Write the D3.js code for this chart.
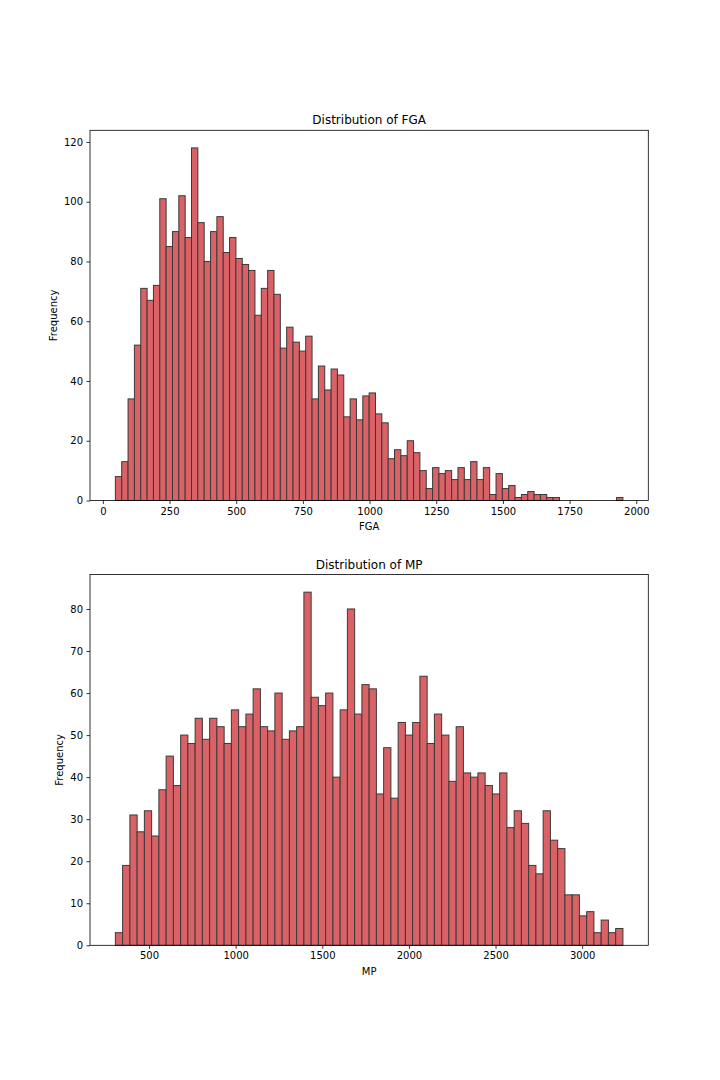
<!DOCTYPE html>
<html><head><meta charset="utf-8">
<script src="https://cdn.jsdelivr.net/npm/d3@7"></script>
<style>
body{margin:0;background:#fff}
svg{display:block}
text{font-family:"DejaVu Sans",sans-serif;fill:#000}
</style>
</head><body><svg id="c" width="720" height="1080"></svg>
<script>
// ---- data ----
const fgaCounts = [8,13,34,52,71,67,72,101,85,90,102,88,118,93,80,90,95,83,88,81,
  79,77,62,71,77,69,51,58,53,50,55,34,45,37,44,42,28,34,27,35,
  36,29,26,14,17,15,20,16,10,4,11,9,10,7,11,7,13,7,11,2,
  9,4,5,1,2,3,2,2,1,1,0,0,0,0,0,0,0,0,0,1];
const fgaRange = [47, 1950];
const fgaXTicks = [0,250,500,750,1000,1250,1500,1750,2000];
const fgaYTicks = [0,20,40,60,80,100,120];

const mpCounts = [3,19,31,27,32,26,37,45,38,50,48,54,49,54,52,48,56,52,55,61,
  52,51,60,49,51,52,84,59,57,60,40,56,80,55,62,61,36,47,35,53,
  50,53,64,48,55,50,39,52,41,40,41,38,36,41,28,32,29,19,17,32,
  25,23,12,12,7,8,3,6,3,4];
const mpRange = [306, 3235];
const mpXTicks = [500,1000,1500,2000,2500,3000];
const mpYTicks = [0,10,20,30,40,50,60,70,80];

const panels = [
  {title:"Distribution of FGA", xlabel:"FGA", counts:fgaCounts, range:fgaRange, xt:fgaXTicks, yt:fgaYTicks,
   box:{l:90, r:648.3, t:130.3, b:500.5}, ylabX:56.5},
  {title:"Distribution of MP", xlabel:"MP", counts:mpCounts, range:mpRange, xt:mpXTicks, yt:mpYTicks,
   box:{l:90, r:648.3, t:574.5, b:945.3}, ylabX:62.9}
];

const svg = d3.select("#c");
const fill = "rgb(218,98,102)", edge = "#3a3a3a";

panels.forEach(p => {
  const [lo, hi] = p.range, n = p.counts.length, span = hi - lo;
  const edges = d3.range(n + 1).map(i => lo + i * span / n);
  const x = d3.scaleLinear().domain([lo - 0.05 * span, hi + 0.05 * span]).range([p.box.l, p.box.r]);
  const y = d3.scaleLinear().domain([0, d3.max(p.counts) * 1.05]).range([p.box.b, p.box.t]);
  const g = svg.append("g");

  const bins = p.counts.map((c, i) => ({c, x0: edges[i], x1: edges[i + 1]})).filter(d => d.c > 0);
  g.selectAll("rect.bar").data(bins).join("rect")
    .attr("class", "bar")
    .attr("x", d => x(d.x0)).attr("width", d => x(d.x1) - x(d.x0))
    .attr("y", d => y(d.c)).attr("height", d => y(0) - y(d.c))
    .attr("fill", fill).attr("stroke", edge).attr("stroke-width", 1);

  const xa = g.append("g").attr("transform", `translate(0,${p.box.b})`)
    .call(d3.axisBottom(x).tickValues(p.xt).tickSize(3.5).tickPadding(3.5).tickFormat(d3.format("d")));
  const ya = g.append("g").attr("transform", `translate(${p.box.l},0)`)
    .call(d3.axisLeft(y).tickValues(p.yt).tickSize(3.5).tickPadding(3.5).tickFormat(d3.format("d")));
  [xa, ya].forEach(a => {
    a.attr("font-family", null).attr("font-size", null);
    a.select(".domain").remove();
    a.selectAll(".tick line").attr("stroke", "#000").attr("stroke-width", 0.8);
    a.selectAll(".tick text").style("font-size", "10px").attr("fill", "#000");
  });

  g.append("rect")
    .attr("x", p.box.l).attr("y", p.box.t)
    .attr("width", p.box.r - p.box.l).attr("height", p.box.b - p.box.t)
    .attr("fill", "none").attr("stroke", "#000").attr("stroke-width", 0.8);

  const cx = (p.box.l + p.box.r) / 2;
  g.append("text").attr("x", cx).attr("y", p.box.t - 6).attr("text-anchor", "middle")
    .style("font-size", "12px").text(p.title);
  g.append("text").attr("x", cx).attr("y", p.box.b + 29.5).attr("text-anchor", "middle")
    .style("font-size", "10px").text(p.xlabel);
  g.append("text").attr("transform", `translate(${p.ylabX},${(p.box.t + p.box.b) / 2}) rotate(-90)`)
    .attr("text-anchor", "middle").style("font-size", "10px").text("Frequency");
});
</script>
</body></html>
